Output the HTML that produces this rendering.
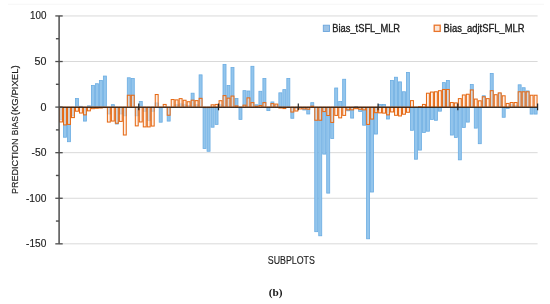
<!DOCTYPE html>
<html><head><meta charset="utf-8"><title>Prediction bias chart</title>
<style>
html,body{margin:0;padding:0;background:#fff;}
body{width:550px;height:304px;overflow:hidden;}
svg{display:block;}
</style></head><body>
<svg width="550" height="304" viewBox="0 0 550 304"><rect x="0" y="0" width="550" height="304" fill="#ffffff"/><line x1="8" y1="4.4" x2="544" y2="4.4" stroke="#f8f8f8" stroke-width="1.2"/><line x1="59.00" y1="15.94" x2="537.60" y2="15.94" stroke="#d9d9d9" stroke-width="1"/><line x1="59.00" y1="61.52" x2="537.60" y2="61.52" stroke="#d9d9d9" stroke-width="1"/><line x1="59.00" y1="152.68" x2="537.60" y2="152.68" stroke="#d9d9d9" stroke-width="1"/><line x1="59.00" y1="198.26" x2="537.60" y2="198.26" stroke="#d9d9d9" stroke-width="1"/><line x1="59.00" y1="243.84" x2="537.60" y2="243.84" stroke="#d9d9d9" stroke-width="1"/><g fill="#93c5ec" stroke="#6aace2" stroke-width="0.8"><rect x="59.49" y="107.10" width="3.00" height="12.36"/><rect x="63.48" y="107.10" width="3.00" height="30.14"/><rect x="67.47" y="107.10" width="3.00" height="34.61"/><rect x="71.46" y="107.10" width="3.00" height="8.72"/><rect x="75.45" y="98.57" width="3.00" height="8.53"/><rect x="79.44" y="106.31" width="3.00" height="0.79"/><rect x="83.42" y="107.10" width="3.00" height="14.00"/><rect x="87.41" y="105.86" width="3.00" height="1.24"/><rect x="91.40" y="85.53" width="3.00" height="21.57"/><rect x="95.39" y="83.71" width="3.00" height="23.39"/><rect x="99.38" y="80.43" width="3.00" height="26.67"/><rect x="103.37" y="76.05" width="3.00" height="31.05"/><rect x="107.35" y="107.10" width="3.00" height="6.89"/><rect x="111.34" y="104.67" width="3.00" height="2.43"/><rect x="115.33" y="107.10" width="3.00" height="16.92"/><rect x="119.32" y="107.10" width="3.00" height="6.89"/><rect x="123.31" y="107.10" width="3.00" height="8.72"/><rect x="127.30" y="77.78" width="3.00" height="29.32"/><rect x="131.28" y="78.51" width="3.00" height="28.59"/><rect x="135.27" y="107.10" width="3.00" height="8.72"/><rect x="139.26" y="101.48" width="3.00" height="5.62"/><rect x="143.25" y="107.10" width="3.00" height="4.16"/><rect x="147.24" y="107.10" width="3.00" height="13.27"/><rect x="151.23" y="107.10" width="3.00" height="4.16"/><rect x="155.21" y="102.94" width="3.00" height="4.16"/><rect x="159.20" y="107.10" width="3.00" height="15.10"/><rect x="163.19" y="106.59" width="3.00" height="0.51"/><rect x="167.18" y="107.10" width="3.00" height="14.00"/><rect x="171.17" y="107.10" width="3.00" height="0.51"/><rect x="175.16" y="104.77" width="3.00" height="2.33"/><rect x="179.14" y="103.85" width="3.00" height="3.25"/><rect x="183.13" y="104.77" width="3.00" height="2.33"/><rect x="187.12" y="105.68" width="3.00" height="1.42"/><rect x="191.11" y="93.19" width="3.00" height="13.91"/><rect x="195.10" y="104.77" width="3.00" height="2.33"/><rect x="199.09" y="74.86" width="3.00" height="32.24"/><rect x="203.07" y="107.10" width="3.00" height="41.44"/><rect x="207.06" y="107.10" width="3.00" height="44.18"/><rect x="211.05" y="107.10" width="3.00" height="20.11"/><rect x="215.04" y="107.10" width="3.00" height="17.29"/><rect x="219.03" y="104.77" width="3.00" height="2.33"/><rect x="223.02" y="64.38" width="3.00" height="42.72"/><rect x="227.00" y="85.53" width="3.00" height="21.57"/><rect x="230.99" y="67.57" width="3.00" height="39.53"/><rect x="234.98" y="98.48" width="3.00" height="8.62"/><rect x="238.97" y="107.10" width="3.00" height="12.27"/><rect x="242.96" y="90.64" width="3.00" height="16.46"/><rect x="246.95" y="91.00" width="3.00" height="16.10"/><rect x="250.93" y="66.30" width="3.00" height="40.80"/><rect x="254.92" y="104.77" width="3.00" height="2.33"/><rect x="258.91" y="91.27" width="3.00" height="15.83"/><rect x="262.90" y="78.51" width="3.00" height="28.59"/><rect x="266.89" y="107.10" width="3.00" height="3.52"/><rect x="270.88" y="101.94" width="3.00" height="5.16"/><rect x="274.86" y="105.68" width="3.00" height="1.42"/><rect x="278.85" y="92.82" width="3.00" height="14.28"/><rect x="282.84" y="89.63" width="3.00" height="17.47"/><rect x="286.83" y="78.51" width="3.00" height="28.59"/><rect x="290.82" y="107.10" width="3.00" height="11.18"/><rect x="294.81" y="107.10" width="3.00" height="1.42"/><rect x="298.79" y="107.10" width="3.00" height="0.51"/><rect x="302.78" y="107.10" width="3.00" height="2.88"/><rect x="306.77" y="107.10" width="3.00" height="6.89"/><rect x="310.76" y="102.67" width="3.00" height="4.43"/><rect x="314.75" y="107.10" width="3.00" height="124.58"/><rect x="318.74" y="107.10" width="3.00" height="128.68"/><rect x="322.72" y="107.10" width="3.00" height="47.00"/><rect x="326.71" y="107.10" width="3.00" height="86.02"/><rect x="330.70" y="107.10" width="3.00" height="31.41"/><rect x="334.69" y="87.99" width="3.00" height="19.11"/><rect x="338.68" y="101.48" width="3.00" height="5.62"/><rect x="342.67" y="79.24" width="3.00" height="27.86"/><rect x="346.65" y="107.10" width="3.00" height="3.70"/><rect x="350.64" y="107.10" width="3.00" height="10.99"/><rect x="354.63" y="106.59" width="3.00" height="0.51"/><rect x="358.62" y="107.10" width="3.00" height="4.34"/><rect x="362.61" y="107.10" width="3.00" height="18.11"/><rect x="366.60" y="107.10" width="3.00" height="131.69"/><rect x="370.58" y="107.10" width="3.00" height="84.93"/><rect x="374.57" y="107.10" width="3.00" height="26.95"/><rect x="378.56" y="104.40" width="3.00" height="2.70"/><rect x="382.55" y="104.58" width="3.00" height="2.52"/><rect x="386.54" y="107.10" width="3.00" height="11.91"/><rect x="390.53" y="80.43" width="3.00" height="26.67"/><rect x="394.51" y="77.23" width="3.00" height="29.87"/><rect x="398.50" y="81.88" width="3.00" height="25.22"/><rect x="402.49" y="91.73" width="3.00" height="15.37"/><rect x="406.48" y="72.40" width="3.00" height="34.70"/><rect x="410.47" y="107.10" width="3.00" height="23.21"/><rect x="414.46" y="107.10" width="3.00" height="52.11"/><rect x="418.44" y="107.10" width="3.00" height="42.99"/><rect x="422.43" y="107.10" width="3.00" height="25.40"/><rect x="426.42" y="107.10" width="3.00" height="24.12"/><rect x="430.41" y="107.10" width="3.00" height="12.45"/><rect x="434.40" y="107.10" width="3.00" height="13.18"/><rect x="438.39" y="107.10" width="3.00" height="4.07"/><rect x="442.37" y="82.61" width="3.00" height="24.49"/><rect x="446.36" y="80.43" width="3.00" height="26.67"/><rect x="450.35" y="107.10" width="3.00" height="27.95"/><rect x="454.34" y="107.10" width="3.00" height="30.32"/><rect x="458.33" y="107.10" width="3.00" height="52.75"/><rect x="462.32" y="107.10" width="3.00" height="20.29"/><rect x="466.30" y="107.10" width="3.00" height="15.01"/><rect x="470.29" y="84.53" width="3.00" height="22.57"/><rect x="474.28" y="107.10" width="3.00" height="21.02"/><rect x="478.27" y="107.10" width="3.00" height="36.61"/><rect x="482.26" y="95.74" width="3.00" height="11.36"/><rect x="486.25" y="107.10" width="3.00" height="0.51"/><rect x="490.23" y="73.41" width="3.00" height="33.69"/><rect x="494.22" y="107.10" width="3.00" height="0.13"/><rect x="498.21" y="93.37" width="3.00" height="13.73"/><rect x="502.20" y="107.10" width="3.00" height="10.17"/><rect x="506.19" y="107.10" width="3.00" height="1.24"/><rect x="510.18" y="104.77" width="3.00" height="2.33"/><rect x="514.16" y="105.68" width="3.00" height="1.42"/><rect x="518.15" y="84.80" width="3.00" height="22.30"/><rect x="522.14" y="87.72" width="3.00" height="19.38"/><rect x="526.13" y="90.91" width="3.00" height="16.19"/><rect x="530.12" y="107.10" width="3.00" height="6.98"/><rect x="534.11" y="107.10" width="3.00" height="6.98"/></g><g fill="#fbe5d6" fill-opacity="0.6" stroke="#e66b17" stroke-width="1.05"><rect x="59.54" y="107.10" width="2.90" height="14.86"/><rect x="63.53" y="107.10" width="2.90" height="17.78"/><rect x="67.52" y="107.10" width="2.90" height="17.33"/><rect x="71.51" y="107.10" width="2.90" height="10.49"/><rect x="75.50" y="107.10" width="2.90" height="4.11"/><rect x="79.49" y="107.10" width="2.90" height="5.93"/><rect x="83.47" y="107.10" width="2.90" height="7.75"/><rect x="87.46" y="107.10" width="2.90" height="3.74"/><rect x="91.45" y="107.10" width="2.90" height="1.56"/><rect x="95.44" y="107.10" width="2.90" height="1.19"/><rect x="99.43" y="107.10" width="2.90" height="0.92"/><rect x="103.42" y="107.10" width="2.90" height="0.46"/><rect x="107.40" y="107.10" width="2.90" height="14.96"/><rect x="111.39" y="107.10" width="2.90" height="13.95"/><rect x="115.38" y="107.10" width="2.90" height="16.14"/><rect x="119.37" y="107.10" width="2.90" height="14.32"/><rect x="123.36" y="107.10" width="2.90" height="27.90"/><rect x="127.35" y="95.24" width="2.90" height="11.86"/><rect x="131.33" y="95.24" width="2.90" height="11.86"/><rect x="135.32" y="107.10" width="2.90" height="18.78"/><rect x="139.31" y="107.10" width="2.90" height="14.86"/><rect x="143.30" y="107.10" width="2.90" height="19.79"/><rect x="147.29" y="107.10" width="2.90" height="19.79"/><rect x="151.28" y="107.10" width="2.90" height="18.97"/><rect x="155.26" y="94.51" width="2.90" height="12.59"/><rect x="159.25" y="107.10" width="2.90" height="0.01"/><rect x="163.24" y="104.45" width="2.90" height="2.65"/><rect x="167.23" y="107.10" width="2.90" height="8.12"/><rect x="171.22" y="99.53" width="2.90" height="7.57"/><rect x="175.21" y="99.89" width="2.90" height="7.21"/><rect x="179.19" y="98.62" width="2.90" height="8.48"/><rect x="183.18" y="100.26" width="2.90" height="6.84"/><rect x="187.17" y="101.72" width="2.90" height="5.38"/><rect x="191.16" y="100.17" width="2.90" height="6.93"/><rect x="195.15" y="100.62" width="2.90" height="6.48"/><rect x="199.14" y="98.34" width="2.90" height="8.76"/><rect x="203.12" y="107.10" width="2.90" height="0.46"/><rect x="207.11" y="107.10" width="2.90" height="0.46"/><rect x="211.10" y="104.82" width="2.90" height="2.28"/><rect x="215.09" y="104.45" width="2.90" height="2.65"/><rect x="219.08" y="100.71" width="2.90" height="6.39"/><rect x="223.07" y="95.61" width="2.90" height="11.49"/><rect x="227.05" y="98.16" width="2.90" height="8.94"/><rect x="231.04" y="96.06" width="2.90" height="11.04"/><rect x="235.03" y="105.91" width="2.90" height="1.19"/><rect x="239.02" y="107.10" width="2.90" height="0.01"/><rect x="243.01" y="105.18" width="2.90" height="1.92"/><rect x="247.00" y="97.89" width="2.90" height="9.21"/><rect x="250.98" y="102.63" width="2.90" height="4.47"/><rect x="254.97" y="106.27" width="2.90" height="0.83"/><rect x="258.96" y="105.54" width="2.90" height="1.56"/><rect x="262.95" y="102.63" width="2.90" height="4.47"/><rect x="266.94" y="107.09" width="2.90" height="0.01"/><rect x="270.93" y="103.63" width="2.90" height="3.47"/><rect x="274.91" y="104.09" width="2.90" height="3.01"/><rect x="278.90" y="107.10" width="2.90" height="0.92"/><rect x="282.89" y="107.10" width="2.90" height="1.46"/><rect x="286.88" y="107.10" width="2.90" height="0.18"/><rect x="290.87" y="107.10" width="2.90" height="4.93"/><rect x="294.86" y="107.10" width="2.90" height="3.93"/><rect x="298.84" y="107.10" width="2.90" height="1.83"/><rect x="302.83" y="107.10" width="2.90" height="1.83"/><rect x="306.82" y="107.10" width="2.90" height="2.10"/><rect x="310.81" y="106.18" width="2.90" height="0.92"/><rect x="314.80" y="107.10" width="2.90" height="13.13"/><rect x="318.79" y="107.10" width="2.90" height="13.13"/><rect x="322.77" y="107.10" width="2.90" height="4.47"/><rect x="326.76" y="107.10" width="2.90" height="8.39"/><rect x="330.75" y="107.10" width="2.90" height="15.32"/><rect x="334.74" y="107.10" width="2.90" height="8.30"/><rect x="338.73" y="107.10" width="2.90" height="10.76"/><rect x="342.72" y="107.10" width="2.90" height="8.30"/><rect x="346.70" y="107.10" width="2.90" height="2.74"/><rect x="350.69" y="107.10" width="2.90" height="2.74"/><rect x="354.68" y="107.10" width="2.90" height="1.56"/><rect x="358.67" y="107.10" width="2.90" height="2.19"/><rect x="362.66" y="107.10" width="2.90" height="2.74"/><rect x="366.65" y="107.10" width="2.90" height="17.33"/><rect x="370.63" y="107.10" width="2.90" height="11.95"/><rect x="374.62" y="107.10" width="2.90" height="5.57"/><rect x="378.61" y="107.10" width="2.90" height="5.75"/><rect x="382.60" y="107.10" width="2.90" height="6.02"/><rect x="386.59" y="107.10" width="2.90" height="7.75"/><rect x="390.58" y="107.10" width="2.90" height="4.84"/><rect x="394.56" y="107.10" width="2.90" height="8.21"/><rect x="398.55" y="107.10" width="2.90" height="8.85"/><rect x="402.54" y="107.10" width="2.90" height="7.12"/><rect x="406.53" y="107.10" width="2.90" height="5.20"/><rect x="410.52" y="100.62" width="2.90" height="6.48"/><rect x="414.51" y="107.10" width="2.90" height="0.01"/><rect x="418.49" y="106.64" width="2.90" height="0.46"/><rect x="422.48" y="104.45" width="2.90" height="2.65"/><rect x="426.47" y="93.24" width="2.90" height="13.86"/><rect x="430.46" y="92.05" width="2.90" height="15.05"/><rect x="434.45" y="91.78" width="2.90" height="15.32"/><rect x="438.44" y="90.69" width="2.90" height="16.41"/><rect x="442.42" y="89.50" width="2.90" height="17.60"/><rect x="446.41" y="89.50" width="2.90" height="17.60"/><rect x="450.40" y="102.54" width="2.90" height="4.56"/><rect x="454.39" y="102.90" width="2.90" height="4.20"/><rect x="458.38" y="98.62" width="2.90" height="8.48"/><rect x="462.37" y="94.97" width="2.90" height="12.13"/><rect x="466.35" y="94.24" width="2.90" height="12.86"/><rect x="470.34" y="89.96" width="2.90" height="17.14"/><rect x="474.33" y="99.07" width="2.90" height="8.03"/><rect x="478.32" y="100.80" width="2.90" height="6.30"/><rect x="482.31" y="96.79" width="2.90" height="10.31"/><rect x="486.30" y="98.62" width="2.90" height="8.48"/><rect x="490.28" y="90.69" width="2.90" height="16.41"/><rect x="494.27" y="94.70" width="2.90" height="12.40"/><rect x="498.26" y="92.87" width="2.90" height="14.23"/><rect x="502.25" y="95.79" width="2.90" height="11.31"/><rect x="506.24" y="103.45" width="2.90" height="3.65"/><rect x="510.23" y="102.54" width="2.90" height="4.56"/><rect x="514.21" y="102.54" width="2.90" height="4.56"/><rect x="518.20" y="91.78" width="2.90" height="15.32"/><rect x="522.19" y="91.78" width="2.90" height="15.32"/><rect x="526.18" y="91.78" width="2.90" height="15.32"/><rect x="530.17" y="95.24" width="2.90" height="11.86"/><rect x="534.16" y="95.24" width="2.90" height="11.86"/></g><line x1="59.00" y1="107.25" x2="537.60" y2="107.25" stroke="#111" stroke-width="1.0"/><line x1="138.77" y1="103.50" x2="138.77" y2="110.30" stroke="#262626" stroke-width="1.2"/><line x1="218.53" y1="103.50" x2="218.53" y2="110.30" stroke="#262626" stroke-width="1.2"/><line x1="298.30" y1="103.50" x2="298.30" y2="110.30" stroke="#262626" stroke-width="1.2"/><line x1="378.07" y1="103.50" x2="378.07" y2="110.30" stroke="#262626" stroke-width="1.2"/><line x1="457.83" y1="103.50" x2="457.83" y2="110.30" stroke="#262626" stroke-width="1.2"/><line x1="537.60" y1="103.50" x2="537.60" y2="110.30" stroke="#262626" stroke-width="1.2"/><line x1="59.10" y1="15.94" x2="59.10" y2="243.84" stroke="#4d4d4d" stroke-width="1.5"/><line x1="55.3" y1="15.94" x2="62.7" y2="15.94" stroke="#4d4d4d" stroke-width="1.3"/><line x1="55.3" y1="61.52" x2="62.7" y2="61.52" stroke="#4d4d4d" stroke-width="1.3"/><line x1="55.3" y1="107.10" x2="62.7" y2="107.10" stroke="#4d4d4d" stroke-width="1.3"/><line x1="55.3" y1="152.68" x2="62.7" y2="152.68" stroke="#4d4d4d" stroke-width="1.3"/><line x1="55.3" y1="198.26" x2="62.7" y2="198.26" stroke="#4d4d4d" stroke-width="1.3"/><line x1="55.3" y1="243.84" x2="62.7" y2="243.84" stroke="#4d4d4d" stroke-width="1.3"/><line x1="55.9" y1="38.73" x2="59" y2="38.73" stroke="#4d4d4d" stroke-width="1.4"/><line x1="55.9" y1="84.31" x2="59" y2="84.31" stroke="#4d4d4d" stroke-width="1.4"/><line x1="55.9" y1="129.89" x2="59" y2="129.89" stroke="#4d4d4d" stroke-width="1.4"/><line x1="55.9" y1="175.47" x2="59" y2="175.47" stroke="#4d4d4d" stroke-width="1.4"/><line x1="55.9" y1="221.05" x2="59" y2="221.05" stroke="#4d4d4d" stroke-width="1.4"/><g font-family="'Liberation Sans', sans-serif" font-size="10.2" fill="#222" stroke="#222" stroke-width="0.15"><text x="30.00" y="19.34" textLength="16.4" lengthAdjust="spacingAndGlyphs">100</text><text x="34.50" y="64.92" textLength="11.9" lengthAdjust="spacingAndGlyphs">50</text><text x="40.40" y="110.50" textLength="6.0" lengthAdjust="spacingAndGlyphs">0</text><text x="31.50" y="156.08" textLength="14.9" lengthAdjust="spacingAndGlyphs">-50</text><text x="25.90" y="201.66" textLength="20.5" lengthAdjust="spacingAndGlyphs">-100</text><text x="26.10" y="247.24" textLength="20.3" lengthAdjust="spacingAndGlyphs">-150</text></g><text transform="translate(18.4,166.25) rotate(-90)" text-anchor="middle" font-family="'Liberation Sans', sans-serif" font-size="9.4" fill="#222" stroke="#222" stroke-width="0.18" textLength="55.5" lengthAdjust="spacingAndGlyphs">PREDICTION</text><text transform="translate(18.4,125.8) rotate(-90)" text-anchor="middle" font-family="'Liberation Sans', sans-serif" font-size="9.4" fill="#222" stroke="#222" stroke-width="0.18" textLength="19.0" lengthAdjust="spacingAndGlyphs">BIAS</text><text transform="translate(18.4,90.25) rotate(-90)" text-anchor="middle" font-family="'Liberation Sans', sans-serif" font-size="9.4" fill="#222" stroke="#222" stroke-width="0.18" textLength="50.1" lengthAdjust="spacingAndGlyphs">(KG/PIXEL)</text><text x="267.8" y="263.8" font-family="'Liberation Sans', sans-serif" font-size="10" fill="#222" stroke="#222" stroke-width="0.15" textLength="47" lengthAdjust="spacingAndGlyphs">SUBPLOTS</text><text x="268.8" y="295.8" font-family="'Liberation Serif', serif" font-size="11.2" font-weight="bold" fill="#1a1a1a" textLength="13.8" lengthAdjust="spacingAndGlyphs">(b)</text><rect x="323.3" y="25.2" width="6.2" height="6.3" fill="#9dc3e6" stroke="#6aa5dc" stroke-width="0.9"/><text x="332.3" y="32.2" font-family="'Liberation Sans', sans-serif" font-size="10.4" fill="#1e1e1e" stroke="#1e1e1e" stroke-width="0.35" textLength="67.8" lengthAdjust="spacingAndGlyphs">Bias_tSFL_MLR</text><rect x="434.2" y="25.2" width="6.0" height="6.2" fill="#fbe5d6" stroke="#e9742a" stroke-width="1.3"/><text x="443.6" y="32.2" font-family="'Liberation Sans', sans-serif" font-size="10.4" fill="#1e1e1e" stroke="#1e1e1e" stroke-width="0.35" textLength="80.9" lengthAdjust="spacingAndGlyphs">Bias_adjtSFL_MLR</text></svg>
</body></html>
